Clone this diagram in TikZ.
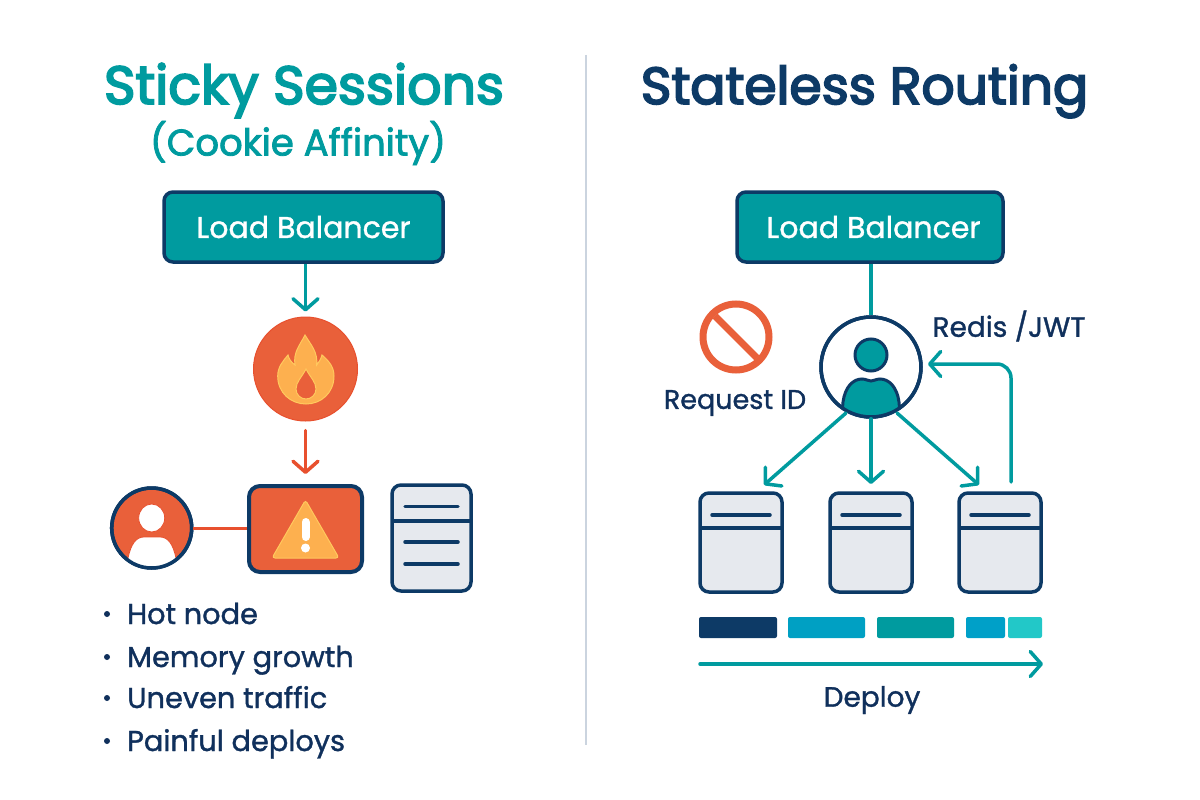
\documentclass[tikz,border=0pt]{standalone}
\usepackage{fontspec}
\setmainfont{Poppins}[FakeBold=1.2]
\newfontfamily\titlefont{Poppins}[FakeBold=3.5]
\newfontfamily\subfont{Poppins}[FakeBold=2.2]
\usetikzlibrary{arrows.meta}
\definecolor{teal0}{HTML}{009B9F}
\definecolor{navy0}{HTML}{0D3A66}
\definecolor{ink0}{HTML}{10305C}
\definecolor{orange0}{HTML}{E9603A}
\definecolor{red0}{HTML}{E8502E}
\definecolor{amber0}{HTML}{FDB04F}
\definecolor{amber1}{HTML}{FFC95E}
\definecolor{grey0}{HTML}{E6E9EE}
\definecolor{rule0}{HTML}{CBD4DF}
\definecolor{blue1}{HTML}{00A0C3}
\definecolor{blue2}{HTML}{00A0C8}
\definecolor{aqua0}{HTML}{22C8C8}
\tikzset{
  lb/.style={draw=navy0,line width=3.5pt,fill=teal0,rounded corners=9pt,text=white,font=\fontsize{30}{36}\selectfont,inner sep=0pt,minimum height=70pt},
  tealline/.style={draw=teal0,line width=3.5pt,line cap=round},
  tealarrow/.style={tealline,-{Straight Barb[length=11pt,width=25pt,line width=3.5pt,round]}},
  redarrow/.style={draw=red0,line width=3.5pt,line cap=round,-{Straight Barb[length=11pt,width=25pt,line width=3.5pt,round]}},
  srv/.style={draw=navy0,line width=3.5pt,fill=grey0,rounded corners=9pt,inner sep=0pt},
  srvline/.style={draw=navy0,line width=3.5pt,line cap=round},
  lbl/.style={text=ink0,font=\fontsize{28}{34}\selectfont,inner sep=0pt},
  bullet/.style={text=ink0,font=\fontsize{28.8}{34}\selectfont,inner sep=0pt,anchor=base west},
  bardot/.style={circle,fill=ink0,minimum size=6pt,inner sep=0pt},
  seg/.style={rounded corners=2pt,inner sep=0pt,minimum height=21pt},
  titl/.style={inner sep=0pt,anchor=base},
}
\begin{document}
\begin{tikzpicture}[x=1pt,y=-1pt]
\useasboundingbox (0,0) rectangle (1200,800);
\fill[white] (0,0) rectangle (1200,800);

% titles
\node[titl,text=teal0,font=\titlefont\fontsize{53.7}{60}\selectfont] (t1) at (304,104) {Sticky Sessions};
\node[inner sep=0pt,text=teal0,font=\subfont\fontsize{37}{42}\selectfont] (t2) at (298,143) {(Cookie Affinity)};
\node[titl,text=navy0,font=\titlefont\fontsize{52}{60}\selectfont] (t3) at (864.5,104) {Stateless Routing};

% divider
\coordinate (d1) at (586,55);
\coordinate (d2) at (586,745);
\draw[rule0,line width=2.5pt] (d1) -- (d2);

% left side
\node[lb,minimum width=279pt] (lbl1) at (303.5,227) {Load Balancer};
\node[circle,fill=orange0,draw=red0,line width=1pt,minimum size=104pt,inner sep=0pt] (fire) at (305.5,369) {};
\filldraw[fill=amber0,draw=amber1,line width=1pt] (305,335) .. controls (311,345) and (318,352) .. (316.7,365) .. controls (319,362) and (321,359) .. (322,355)
  .. controls (329,361) and (334,367) .. (334,376) .. controls (334,393) and (321,404) .. (306,404)
  .. controls (291,404) and (277.7,393) .. (277.7,376) .. controls (277.7,367) and (283,361) .. (288,355)
  .. controls (289,359) and (291,362) .. (295,365) .. controls (293,352) and (300,345) .. (305,335) -- cycle;
\filldraw[fill=orange0,draw=amber1,line width=1pt] (306,369) .. controls (310,377) and (316,382) .. (316,389) .. controls (316,395) and (311,399) .. (306,399)
  .. controls (301,399) and (296,395) .. (296,389) .. controls (296,382) and (302,377) .. (306,369) -- cycle;

\node[rectangle,draw=navy0,line width=4pt,fill=orange0,rounded corners=11pt,minimum width=113pt,minimum height=86pt,inner sep=0pt] (warn) at (305.5,529) {};
\filldraw[fill=amber0,draw=amber1,line width=1pt,rounded corners=3pt] (305.5,500) -- (339,558) -- (272,558) -- cycle;
\draw[white,line width=8pt,line cap=round] (305.5,522) -- (305.5,537);
\fill[white] (305.5,548) circle (4.5);

\node[circle,draw=navy0,line width=3.5pt,fill=orange0,minimum size=80pt,inner sep=0pt] (usr1) at (151.7,528) {};
\begin{scope}
\clip (151.7,528) circle (39);
\filldraw[fill=white,draw=red0,line width=0.8pt] (151.7,518) ellipse (13 and 14);
\filldraw[fill=white,draw=red0,line width=0.8pt] (127,570) -- (128,558) .. controls (131,544) and (136,537) .. (144,537) -- (160,537)
  .. controls (168,537) and (173,544) .. (176,558) -- (177,570) -- cycle;
\end{scope}
\draw[navy0,line width=3.5pt] (usr1.center) circle (40);

\draw[tealarrow,line cap=butt] (lbl1.south -| fire.north) -- ([yshift=5pt]fire.north);
\draw[redarrow,shorten <=9pt] (fire.south) -- ([yshift=10pt]warn.north);
\draw[red0,line width=3pt] (usr1.east) -- (usr1.east -| warn.west);

\node[srv,minimum width=79pt,minimum height=106pt] (srvL) at (431.5,538) {};
\coordinate (sLa) at (392,521); \coordinate (sLb) at (471,521);
\draw[navy0,line width=3.5pt] (sLa) -- (sLb);
\foreach \yy/\nm in {506.5/a,542/b,564/c}{
  \coordinate (L\nm1) at (405,\yy); \coordinate (L\nm2) at (458,\yy);
  \draw[srvline] (L\nm1) -- (L\nm2);
}

\foreach \yy/\txt/\nm in {624/Hot node/b1,667/Memory growth/b2,708/Uneven traffic/b3,751/Painful deploys/b4}{
  \node[bardot] (d\nm) at (107,\yy-10) {};
  \node[bullet] (\nm) at (127,\yy) {\txt};
}

% right side
\node[lb,minimum width=266pt] (lbl2) at (870,227) {\hspace*{7pt}Load Balancer};
\node[circle,draw=navy0,line width=3.5pt,fill=white,minimum size=100pt,inner sep=0pt] (usr2) at (871,367) {};
\begin{scope}
\clip (871,367) circle (49);
\filldraw[fill=teal0,draw=navy0,line width=3pt] (871,355) circle (16);
\filldraw[fill=teal0,draw=navy0,line width=3pt] (841,425) -- (843,402) .. controls (845,387) and (853,379) .. (862,379)
  .. controls (866,379) and (868,381) .. (871,381) .. controls (874,381) and (876,379) .. (880,379)
  .. controls (889,379) and (897,387) .. (899,402) -- (901,425) -- cycle;
\end{scope}
\draw[navy0,line width=3.5pt] (usr2.center) circle (50);
\draw[tealline,line cap=butt] (lbl2.south -| usr2.north) -- (usr2.north);

\node[circle,draw=orange0,line width=7pt,minimum size=66pt,inner sep=0pt] (ban) at (736,337) {};
\coordinate (ban1) at (715,316); \coordinate (ban2) at (757,358);
\draw[orange0,line width=7pt] (ban1) -- (ban2);
\node[lbl,font=\fontsize{27}{34}\selectfont] (reqid) at (735,403) {Request ID};
\node[lbl] (redis) at (1009,326) {Redis /JWT};

\foreach \xx/\nm in {741/1,871/2,1000/3}{
  \node[srv,minimum width=82pt,minimum height=99pt] (srv\nm) at (\xx,542.5) {};
  \coordinate (sa\nm) at (\xx-41,528); \coordinate (sb\nm) at (\xx+41,528);
  \draw[navy0,line width=3.5pt] (sa\nm) -- (sb\nm);
  \coordinate (sc\nm) at (\xx-29,515); \coordinate (sd\nm) at (\xx+29,515);
  \draw[srvline] (sc\nm) -- (sd\nm);
}
\coordinate (e1) at (764,485);
\coordinate (e2) at (871,484);
\coordinate (e3) at (979,485);
\coordinate (s1) at (846,413);
\coordinate (s3) at (897,413);
\coordinate (r0) at (1011,482);
\coordinate (r1) at (1011,364);
\coordinate (r2) at (928,364);
\draw[tealarrow] (s1) -- (e1);
\draw[tealarrow] (usr2.south) -- (e2);
\draw[tealarrow] (s3) -- (e3);
\draw[tealarrow,rounded corners=14pt] (r0) -- (r1) -- (r2);

\node[seg,fill=navy0,minimum width=78pt] (b1) at (738,627.5) {};
\node[seg,fill=blue1,minimum width=77pt] (b2) at (826.5,627.5) {};
\node[seg,fill=teal0,minimum width=77pt] (b3) at (915.5,627.5) {};
\node[seg,fill=blue2,minimum width=39pt] (b4) at (985.5,627.5) {};
\node[seg,fill=aqua0,minimum width=34pt] (b5) at (1025,627.5) {};

\coordinate (a0) at (700,664);
\coordinate (a1) at (1043,664);
\draw[tealarrow] (a0) -- (a1);
\node[lbl] (dep) at (872,700) {Deploy};
\end{tikzpicture}
\end{document}
